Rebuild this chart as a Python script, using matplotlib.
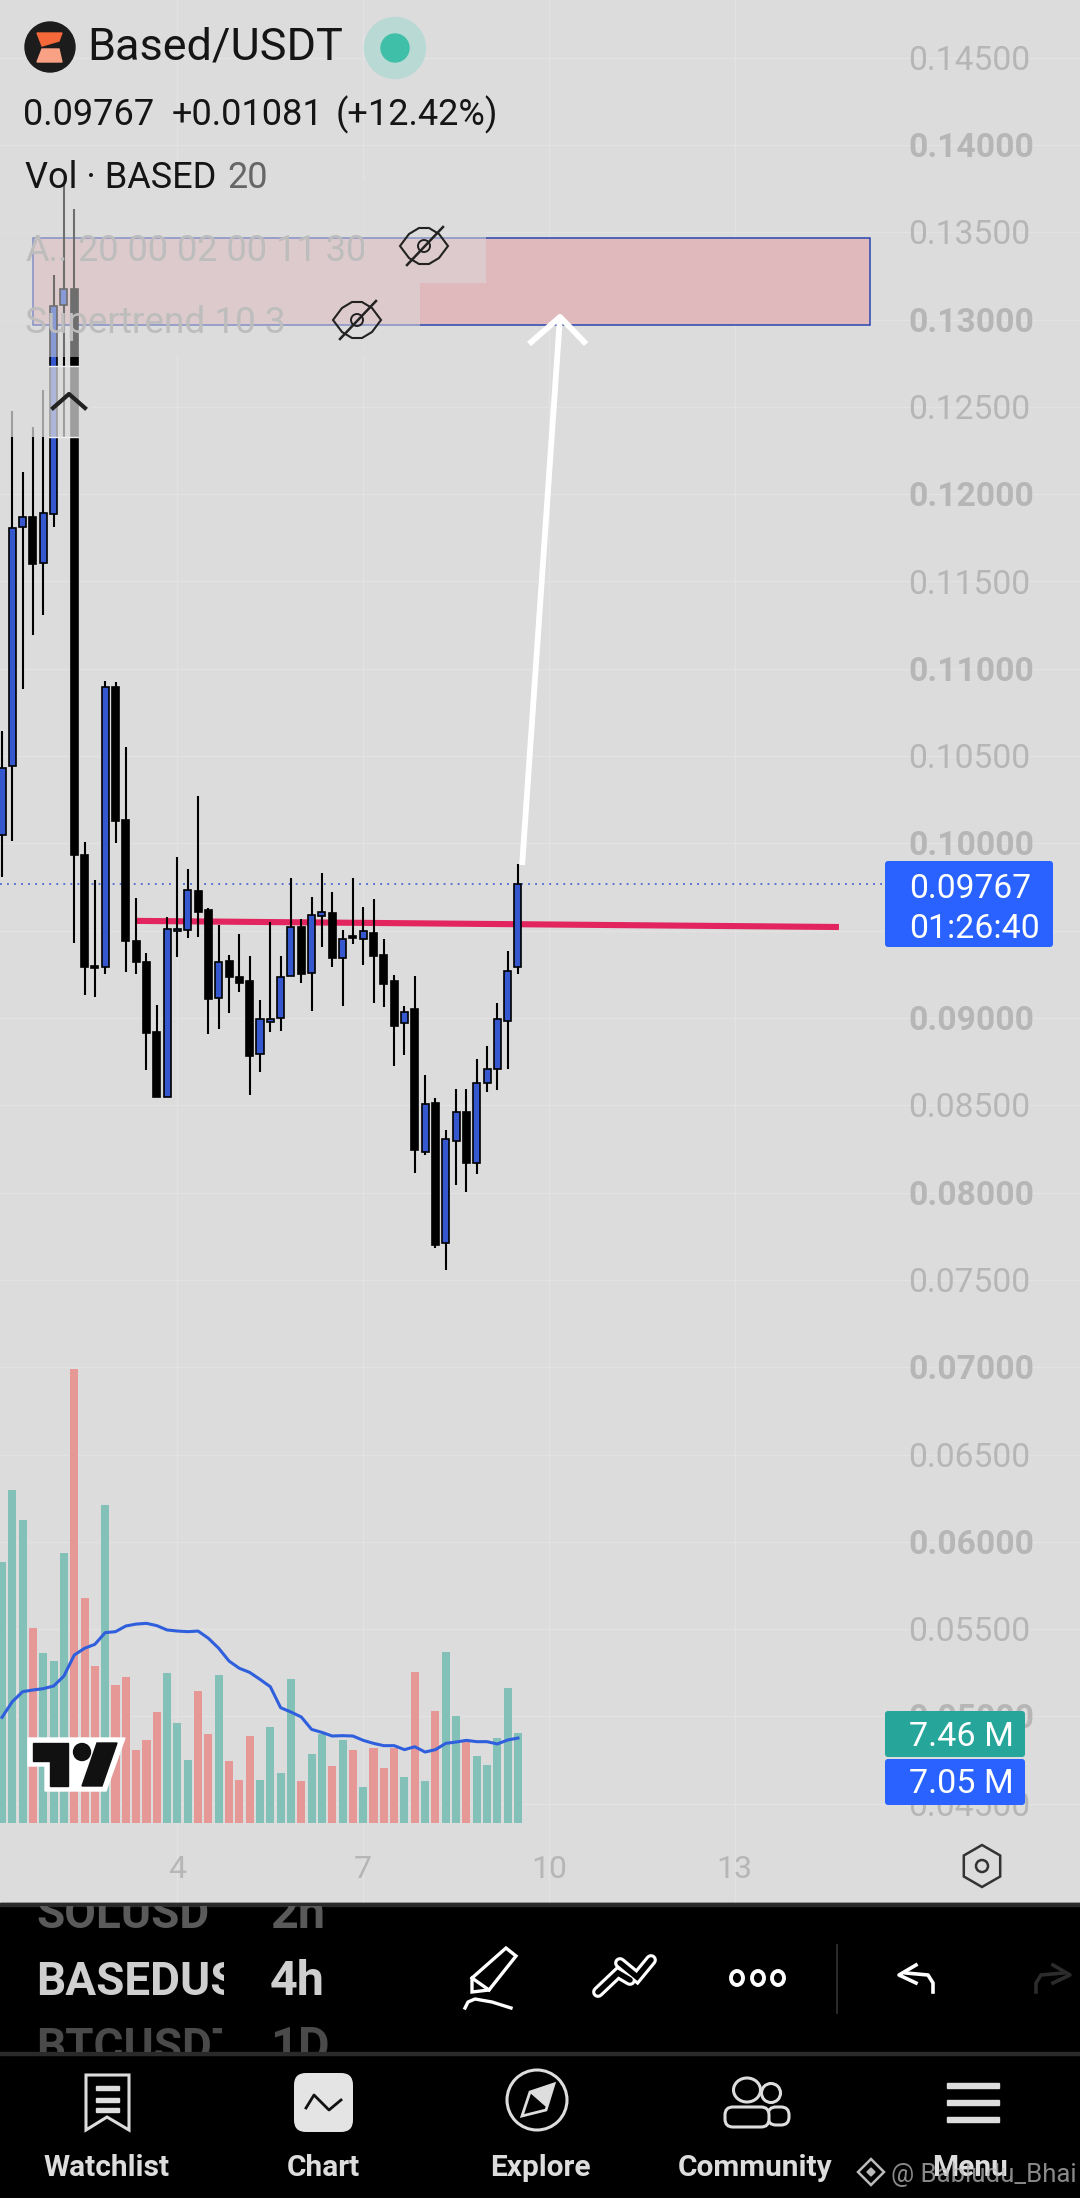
import matplotlib
matplotlib.use("Agg")
import matplotlib.pyplot as plt
import numpy as np
from matplotlib.patches import Rectangle, Circle, Polygon, FancyBboxPatch, RegularPolygon, Ellipse

plt.rcParams['font.family'] = ['Roboto', 'DejaVu Sans']

# 4h candles
opens = [.10048, .10443, .11812, .11869, .11606, .11886, .13083, .13175, .09933, .09298,
         .09292, .10896, .10134, .09441, .09321, .08920, .08548, .09498, .09504, .09727,
         .09619, .09115, .09326, .09235, .09212, .08794, .08977, .09000, .09241, .09521,
         .09258, .09584, .09601, .09344, .09470, .09452, .09487, .09361, .09212, .08971,
         .09052, .08233, .08513, .07711, .08296, .08462, .08170, .08628, .08708, .08983,
         .09292]
highs = [.10644, .12476, .12127, .12385, .12597, .13255, .13771, .13633, .10008, .09790,
         .10930, .10924, .10552, .09687, .09372, .09074, .09578, .09922, .09853, .10271,
         .09630, .09533, .09361, .09481, .09355, .09103, .09550, .09355, .09802, .09567,
         .09693, .09830, .09722, .09504, .09802, .09636, .09682, .09452, .09246, .09069,
         .09241, .08674, .08542, .08359, .08593, .08593, .08765, .08840, .09086, .09384,
         .09882]
lows = [.09808, .10014, .10884, .11193, .11308, .11812, .12322, .09430, .09132, .09120,
        .09252, .10002, .09263, .09252, .08702, .08548, .08548, .09349, .09458, .09464,
        .08908, .08937, .09029, .09149, .08559, .08691, .08920, .08926, .09241, .09200,
        .09040, .09407, .09292, .09069, .09424, .09304, .09086, .09063, .08725, .08788,
        .08112, .08215, .07683, .07557, .08044, .08004, .08107, .08576, .08588, .08708,
        .09252]
closes = [.10432, .11806, .11869, .11600, .11892, .13078, .13175, .09933, .09292, .09286,
          .10896, .10128, .09441, .09321, .08914, .08548, .09510, .09510, .09733, .09607,
          .09109, .09321, .09235, .09200, .08782, .08994, .08994, .09235, .09521, .09252,
          .09590, .09607, .09344, .09452, .09458, .09498, .09355, .09195, .08954, .09034,
          .08244, .08507, .07700, .08307, .08462, .08170, .08628, .08708, .08994, .09269,
          .09767]

# volume in millions and its 20 period average
volumes = [21.69, 27.63, 25.15, 16.15, 14.14, 13.47, 22.38, 37.68, 18.64, 13.03,
           26.39, 11.45, 12.14, 6.06, 6.89, 9.21, 12.48, 8.27, 5.23, 10.98,
           7.39, 12.28, 5.15, 3.57, 7.22, 3.57, 7.97, 4.15, 11.98, 3.46,
           5.70, 7.41, 4.70, 6.86, 6.03, 2.99, 6.20, 4.54, 6.20, 3.79,
           12.50, 3.46, 9.27, 14.16, 8.85, 6.86, 5.53, 4.79, 7.08, 11.23,
           7.46]
vol_ma = [8.77, 10.07, 10.90, 11.04, 11.15, 11.37, 12.20, 13.94, 14.50, 14.83,
          15.80, 15.88, 16.35, 16.51, 16.57, 16.38, 16.02, 15.93, 15.88, 15.93,
          15.33, 14.50, 13.44, 12.84, 12.50, 11.92, 11.31, 9.57, 9.21, 8.80,
          7.77, 7.52, 7.22, 7.25, 7.22, 6.86, 6.61, 6.42, 6.42, 6.09,
          6.33, 5.89, 6.09, 6.61, 6.72, 6.86, 6.75, 6.75, 6.56, 6.89,
          7.05]

price_ticks = [.145, .14, .135, .13, .125, .12, .115, .11, .105, .10, .095, .09, .085,
               .08, .075, .07, .065, .06, .055, .05, .045]
# 0.09500 has no label in the picture, the level sits under the price box
price_labels_skip = [.095]
day_ticks = [17, 35, 53, 71]
day_labels = ['4', '7', '10', '13']

last_price = 0.09767
zone_x = [3.0, 84.1]
zone_y = [.12969, .13467]
line_x = [13, 81.1]
line_y = [.09556, .09521]
arrow_x = [50.4, 54.07]
arrow_y = [.09876, .13015]
head_x = [51.07, 54.07, 56.6]
head_y = [.12860, .13015, .12860]

BG = '#dcdcdc'
GRID = '#e2e2e2'
BLUE = '#3558cf'
TEAL = '#82c0b8'
PINK = '#e59896'
LABEL = '#b6b6b6'

fig = plt.figure(figsize=(10.8, 21.98), dpi=100, facecolor=BG)

x_lim = (-0.194, 104.46)

# price panel, whole figure
ax = fig.add_axes([0, 0, 1, 1], zorder=0, facecolor=BG)
ax.set_xlim(*x_lim)
ax.set_ylim(0.02242, 0.14830)
ax.axis('off')

# volume sits in the same frame on its own scale
ax_vol = fig.add_axes([0, 0, 1, 1], zorder=1)
ax_vol.patch.set_alpha(0)
ax_vol.set_xlim(*x_lim)
ax_vol.set_ylim(-31.12, 151.29)
ax_vol.axis('off')

# phone ui on top, in pixels
ui = fig.add_axes([0, 0, 1, 1], zorder=2)
ui.patch.set_alpha(0)
ui.set_xlim(0, 1080)
ui.set_ylim(2198, 0)
ui.axis('off')


def label(x, y, s, **kw):
    # matplotlib centres a little high for this font
    kw.setdefault('va', 'center')
    kw.setdefault('zorder', 5)
    return ui.text(x, y + 3, s, **kw)


# Grid
for p in price_ticks:
    ax.axhline(p, color=GRID, lw=1, zorder=1)
for d in [-1] + day_ticks:
    ax.axvline(d, color=GRID, lw=1, zorder=1)

# Zone and level
ax.add_patch(Rectangle((zone_x[0], zone_y[0]), zone_x[1] - zone_x[0], zone_y[1] - zone_y[0],
                       facecolor='#e0b9bc', edgecolor='#2a45b0', lw=1.1, zorder=2))
ax.plot(line_x, line_y, color='#e2245f', lw=4.4, zorder=3, solid_capstyle='butt')
ax.plot([x_lim[0], 85.6], [last_price, last_price], color='#4a68d0', lw=1.3,
        linestyle=(0, (1, 2.9)), zorder=3)

# Candles
idx = np.arange(len(opens))
ax.vlines(idx, lows, highs, color='black', lw=1.5, zorder=4)
for i in idx:
    up = closes[i] >= opens[i]
    bottom = min(opens[i], closes[i])
    height = abs(closes[i] - opens[i])
    ax.bar(i, height, bottom=bottom, width=0.68, color=BLUE if up else 'black',
           edgecolor='black', lw=1.2, zorder=5)

# Arrow
ax.plot(arrow_x, arrow_y, color='white', lw=4.2, zorder=6, solid_capstyle='butt')
ax.plot(head_x, head_y, color='white', lw=4.2, zorder=6, solid_capstyle='butt')

# Volume
vol_colors = [TEAL if c >= o else PINK for o, c in zip(opens, closes)]
ax_vol.bar(idx, volumes, width=0.78, color=vol_colors, zorder=2)
ax_vol.plot(idx, vol_ma, color='#2f5fdc', lw=2.2, zorder=3)

# Axis labels
for p in price_ticks:
    if p in price_labels_skip:
        continue
    whole = abs(p * 100 - round(p * 100)) < 1e-6
    ax.annotate(f'{p:.5f}', xy=(87.8, p), xytext=(0, -2.2), textcoords='offset points',
                fontsize=24.2, color=LABEL, va='center', ha='left',
                fontweight='bold' if whole else 'normal', zorder=7)
for d, s in zip(day_ticks, day_labels):
    ax.annotate(s, xy=(d, 0.09 - (1866 - 1018) * 5.727e-5), xytext=(0, -2.2),
                textcoords='offset points', fontsize=23, color=LABEL, va='center',
                ha='center', zorder=7)

# Faded legend strip over the candles
for x0, y0, w, h, a in [(0, 180, 486, 103, .5), (0, 283, 420, 74, .5), (0, 367, 92, 70, .72)]:
    ui.add_patch(Rectangle((x0, y0), w, h, facecolor=BG, alpha=a, lw=0, zorder=1))
ui.plot([49, 78], [366, 366], color='#f0f0f0', lw=1, zorder=1)
ui.plot([49, 78], [437, 437], color='#f0f0f0', lw=1, zorder=1)
ui.plot([53, 69, 85], [408, 394, 408], color='#222222', lw=3, zorder=2)

# Header
ui.add_patch(Circle((50, 47), 25, color='#1c1c1c', zorder=3))
ui.add_patch(Polygon([(37, 33), (62, 33), (59, 41), (42, 46)], color='#f4683a', zorder=4))
ui.add_patch(Polygon([(42, 49), (59, 49), (62, 62), (37, 62)], color='#f9a184', zorder=4))
ui.add_patch(Circle((395, 48), 30.5, color='#b9d9d5', zorder=3))
ui.add_patch(Circle((395, 48), 14, color='#40bfa8', zorder=4))
label(87, 45, 'Based/USDT', fontsize=32.4, color='#151515')
label(23, 112, '0.09767', fontsize=26, color='#151515')
label(172, 112, '+0.01081', fontsize=26, color='#151515')
label(336, 112, '(+12.42%)', fontsize=26, color='#151515')
label(25, 175, 'Vol · BASED', fontsize=26, color='#151515')
label(227, 175, '20', fontsize=26, color='#666666')
label(25, 248, 'A..', fontsize=26, color='#bdbdbd')
t = label(78, 248, '20 00 02 00 11 30', fontsize=26, color='#bdbdbd')
t.set_clip_on(True)
t.set_clip_path(Rectangle((0, 200), 364, 100, transform=ui.transData))
label(25, 320, 'Supertrend 10 3', fontsize=26.6, color='#bdbdbd')
for cx, cy in [(424, 246), (357, 320)]:
    ui.add_patch(Polygon([(cx - 24, cy), (cx - 15, cy - 12), (cx - 5, cy - 18), (cx + 5, cy - 18),
                          (cx + 15, cy - 12), (cx + 24, cy), (cx + 15, cy + 12), (cx + 5, cy + 18),
                          (cx - 5, cy + 18), (cx - 15, cy + 12)], fill=False,
                         edgecolor='#222222', lw=1.5, zorder=5))
    ui.add_patch(Circle((cx, cy), 6, fill=False, edgecolor='#222222', lw=1.4, zorder=5))
    ui.plot([cx - 17, cx + 19], [cy + 19, cy - 19], color='#222222', lw=1.8, zorder=5)

# Value boxes
for x0, y0, w, h, c in [(885, 861, 168, 86, '#2962ff'), (885, 1711, 140, 46, '#26a69a'),
                        (885, 1759, 140, 46, '#2962ff')]:
    ui.add_patch(FancyBboxPatch((x0 + 3, y0 + 3), w - 6, h - 6, boxstyle='round,pad=3',
                                color=c, lw=0, zorder=3))
label(909, 886, '0.09767', fontsize=24.2, color='white')
label(909, 926, '01:26:40', fontsize=24.4, color='white')
label(909, 1734, '7.46 M', fontsize=24.6, color='white')
label(909, 1781, '7.05 M', fontsize=24.6, color='white')

# Settings hexagon
ui.add_patch(RegularPolygon((982, 1866), 6, radius=21, fill=False, edgecolor='#333333', lw=1.8, zorder=3))
ui.add_patch(Circle((982, 1866), 6, fill=False, edgecolor='#333333', lw=1.8, zorder=3))

# TradingView badge
ui.add_patch(Polygon([(28, 1738), (125, 1738), (106, 1791), (45, 1791), (45, 1766), (28, 1766)],
                     color='white', zorder=3))
ui.add_patch(Polygon([(33, 1743), (68, 1743), (68, 1786), (50, 1786), (50, 1761), (33, 1761)],
                     color='#111111', zorder=4))
ui.add_patch(Circle((82, 1752), 8.5, color='#111111', zorder=4))
ui.add_patch(Polygon([(97, 1743), (117, 1743), (102, 1786), (82, 1786)], color='#111111', zorder=4))

# Black toolbar
ui.add_patch(Rectangle((0, 1903), 1080, 295, color='black', zorder=3))
ui.add_patch(Rectangle((0, 1903), 1080, 3, color='#2a2a2a', zorder=4))
ui.add_patch(Rectangle((0, 2052), 1080, 3, color='#2a2a2a', zorder=4))

for s, x, y, c, fs, clip in [('SOLUSD', 36, 1912, '#5a5a5a', 33, (0, 1906, 222, 60)),
                             ('2h', 270, 1912, '#5a5a5a', 35, (224, 1906, 200, 60)),
                             ('BASEDUSDT', 36, 1979, '#cfcfcf', 33, (0, 1940, 224, 80)),
                             ('4h', 270, 1979, '#cfcfcf', 35, (226, 1940, 200, 80)),
                             ('BTCUSDT', 36, 2045, '#4a4a4a', 33, (0, 2000, 222, 52)),
                             ('1D', 270, 2045, '#4a4a4a', 35, (224, 2000, 200, 52))]:
    t = label(x, y, s, fontsize=fs, fontweight='bold', color=c)
    t.set_clip_on(True)
    t.set_clip_path(Rectangle(clip[:2], clip[2], clip[3], transform=ui.transData))

# Pen
ui.add_patch(Polygon([(506, 1948), (516, 1956), (489, 1990), (472, 1992), (472, 1978)], fill=False,
                     edgecolor='white', lw=2.4, zorder=5))
ui.plot([472, 489], [1978, 1990], color='white', lw=2.4, zorder=5)
ui.plot([465, 468, 475, 492, 511], [2008, 2002, 1999, 2002, 2008], color='white', lw=2.4, zorder=5)
# Line tool
for xs, ys in [([598, 618, 630], [1992, 1973, 1980]), ([620, 637, 651], [1963, 1977, 1960])]:
    ui.plot(xs, ys, color='white', lw=8.5, zorder=5, solid_capstyle='round', solid_joinstyle='miter')
    ui.plot(xs, ys, color='black', lw=4, zorder=6, solid_capstyle='round', solid_joinstyle='miter')
# Dots
for cx in [737, 758, 778]:
    ui.add_patch(Ellipse((cx, 1978), 12, 14, fill=False, edgecolor='white', lw=2.8, zorder=5))
ui.plot([837, 837], [1945, 2013], color='#333333', lw=1.2, zorder=5)
# Undo and redo
ui.plot([933, 933, 928, 906], [1992, 1983, 1975, 1973], color='white', lw=2.6, zorder=5)
ui.plot([916, 899, 916], [1965, 1975, 1983], color='white', lw=2.6, zorder=5)
ui.plot([1036, 1036, 1041, 1063], [1992, 1983, 1975, 1973], color='#2c2c2c', lw=2.6, zorder=5)
ui.plot([1053, 1070, 1053], [1965, 1975, 1983], color='#2c2c2c', lw=2.6, zorder=5)

# Bottom navigation
NAV = '#dddddd'
ui.add_patch(Polygon([(86, 2075), (129, 2075), (129, 2130), (107, 2117), (86, 2130)], fill=False,
                     edgecolor=NAV, lw=2.2, zorder=5))
for yy in [2088, 2100, 2110]:
    ui.add_patch(Rectangle((96, yy - 2), 23, 4, color=NAV, zorder=5))
ui.add_patch(FancyBboxPatch((306, 2085), 35, 35, boxstyle='round,pad=12', color='#e4e4e4', lw=0, zorder=5))
ui.plot([306, 314, 329, 341], [2108, 2095, 2110, 2100], color='#111111', lw=2, zorder=6)
ui.add_patch(Circle((537, 2100), 30, fill=False, edgecolor=NAV, lw=2.2, zorder=5))
ui.add_patch(Polygon([(554, 2084), (546, 2110), (522, 2116), (530, 2092)], fill=False, edgecolor=NAV, lw=2, zorder=5))
ui.add_patch(Polygon([(554, 2084), (546, 2106), (530, 2092)], color=NAV, zorder=5))
ui.add_patch(Ellipse((747, 2090), 27, 24, fill=False, edgecolor=NAV, lw=2.2, zorder=5))
ui.add_patch(Ellipse((771, 2093), 19, 19, fill=False, edgecolor=NAV, lw=2.2, zorder=5))
ui.add_patch(FancyBboxPatch((776, 2115), 5, 2, boxstyle='round,pad=8', fill=False, edgecolor=NAV, lw=2.2, zorder=5))
ui.add_patch(FancyBboxPatch((733, 2115), 28, 4, boxstyle='round,pad=8', facecolor='black', edgecolor=NAV, lw=2.2, zorder=5))
for yy in [2085, 2102, 2119]:
    ui.add_patch(Rectangle((947, yy - 2.5), 52, 5, color=NAV, zorder=5))
for s, x in [('Watchlist', 107), ('Chart', 323), ('Explore', 540), ('Community', 755), ('Menu', 970)]:
    label(x, 2165, s, fontsize=21.5, fontweight='bold', color=NAV, ha='center', zorder=6)

# Watermark
ui.add_patch(RegularPolygon((871, 2172), 4, radius=13, fill=False, edgecolor='#bbbbbb', lw=1.8, zorder=7))
ui.add_patch(RegularPolygon((871, 2172), 4, radius=4, color='#bbbbbb', zorder=7))
label(891, 2172, '@ Babludu_Bhai', fontsize=18.5, color='#b8b8b8', alpha=0.75, zorder=7)

fig.savefig('out.png', dpi=100, facecolor=BG)
